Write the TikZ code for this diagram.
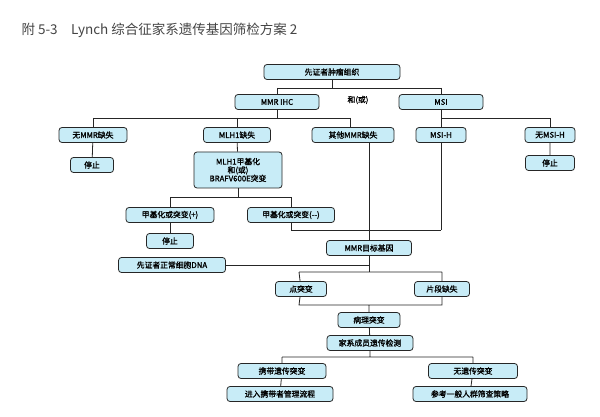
\documentclass[tikz,border=0pt]{standalone}
\usepackage{fontspec}
\setmainfont{Liberation Serif}
\newfontfamily\cjk[FakeBold=1.3]{Noto Sans CJK SC}
\newfontfamily\titlef{Noto Sans CJK SC}
\definecolor{boxfill}{HTML}{C8ECF7}
\definecolor{titlec}{HTML}{444444}
\begin{document}
\begin{tikzpicture}[x=1pt,y=-1pt,
  bx/.style={draw=black!85,line width=0.8pt,fill=boxfill,rounded corners=3pt,inner sep=1pt,
    font=\cjk\fontsize{7.8}{8.6}\selectfont,align=center,minimum height=15pt},
  ln/.style={line width=0.8pt,draw=black!85}]
\useasboundingbox (0,0) rectangle (600,417);
\fill[white] (0,0) rectangle (600,417);
\node[anchor=west,text=titlec,font=\titlef\fontsize{13.5}{15}\selectfont] (title) at (18,30) {附 5-3\quad Lynch 综合征家系遗传基因筛检方案 2};
\coordinate (j1) at (332,88); \coordinate (j1l) at (277,88); \coordinate (j1r) at (441,88);
\coordinate (j2l) at (93,118); \coordinate (j2c) at (277,118); \coordinate (j2m) at (237,118); \coordinate (j2r) at (350,118);
\coordinate (j3l) at (441,118); \coordinate (j3r) at (550,118);
\coordinate (j4) at (238,197); \coordinate (j4l) at (170,197); \coordinate (j4r) at (291,197);
\coordinate (j5l) at (291,230); \coordinate (j5r) at (441,230);
\coordinate (j6) at (369,265); \coordinate (j7) at (369,272); \coordinate (j7l) at (299,272); \coordinate (j7r) at (442,272);
\coordinate (j8) at (369,305); \coordinate (j8l) at (299,305); \coordinate (j8r) at (442,305);
\coordinate (j9) at (370,357); \coordinate (j9l) at (282,357); \coordinate (j9r) at (473,357);
\coordinate (o) at (369,150);

\node[bx,minimum width=136pt] (top) at (332,72) {先证者肿瘤组织};
\node[bx,minimum width=84pt] (ihc) at (277,102) {MMR IHC};
\node[font=\cjk\fontsize{7.8}{8.6}\selectfont] (and) at (358,100) {和(或)};
\node[bx,minimum width=84pt] (msi) at (441,102) {MSI};
\node[bx,minimum width=68pt] (nommr) at (93,135) {无MMR缺失};
\node[bx,minimum width=67pt] (mlh1) at (237,135) {MLH1缺失};
\node[bx,minimum width=82pt] (other) at (353,135) {其他MMR缺失};
\node[bx,minimum width=50pt] (msih) at (441,135) {MSI-H};
\node[bx,minimum width=50pt] (nomsih) at (550,135) {无MSI-H};
\node[bx,minimum width=43pt] (stop1) at (92,165) {停止};
\node[bx,minimum width=49pt] (stop2) at (550,163) {停止};
\node[bx,minimum width=88pt,minimum height=36pt,font=\cjk\fontsize{7.8}{8.4}\selectfont] (meth) at (238,170) {MLH1甲基化\\和(或)\\BRAFV600E突变};
\node[bx,minimum width=88pt] (plus) at (170,215) {甲基化或突变(+)};
\node[bx,minimum width=87pt] (minus) at (291,215) {甲基化或突变(--)};
\node[bx,minimum width=47pt] (stop3) at (170,241) {停止};
\node[bx,minimum width=85pt] (target) at (369,248) {MMR目标基因};
\node[bx,minimum width=107pt] (normal) at (172,265) {先证者正常细胞DNA};
\node[bx,minimum width=51pt] (point) at (301,289) {点突变};
\node[bx,minimum width=55pt] (frag) at (442,289) {片段缺失};
\node[bx,minimum width=62pt] (path) at (369,320) {病理突变};
\node[bx,minimum width=86pt] (fam) at (370,343) {家系成员遗传检测};
\node[bx,minimum width=88pt] (carry) at (282,371) {携带遗传突变};
\node[bx,minimum width=89pt] (nomut) at (473,371) {无遗传突变};
\node[bx,minimum width=106pt] (enter) at (280,394) {进入携带者管理流程};
\node[bx,minimum width=114pt] (ref) at (470,394) {参考一般人群筛查策略};

\draw[ln] (top) -- (j1) (j1l) -- (j1r) (j1l) -- (ihc) (j1r) -- (msi);
\draw[ln] (ihc) -- (j2c) (j2l) -- (j2r) (j2l) -- (nommr) (j2m) -- (mlh1) (j2r) -- (other.north -| j2r);
\draw[ln] (msi) -- (j3l) -- (j3r) (j3l) -- (msih) (j3r) -- (nomsih);
\draw[ln] (nommr) -- (stop1) (nomsih) -- (stop2) (mlh1) -- (meth);
\draw[ln] (meth) -- (j4) (j4l) -- (j4r) (j4l) -- (plus) (j4r) -- (minus) (plus) -- (stop3);
\draw[ln] (minus) -- (j5l) -- (j5r) (msih) -- (j5r);
\draw[ln] (other.south -| o) -- (target);
\draw[ln] (target) -- (j7) (normal) -- (j6);
\draw[ln] (j7l) -- (j7r) (j7l) -- (point) (j7r) -- (frag) (point) -- (j8l) -- (j8r) -- (frag) (j8) -- (path);
\draw[ln] (path) -- (fam) (fam) -- (j9) (j9l) -- (j9r) (j9l) -- (carry) (j9r) -- (nomut) (carry) -- (enter) (nomut) -- (ref);
\end{tikzpicture}
\end{document}
